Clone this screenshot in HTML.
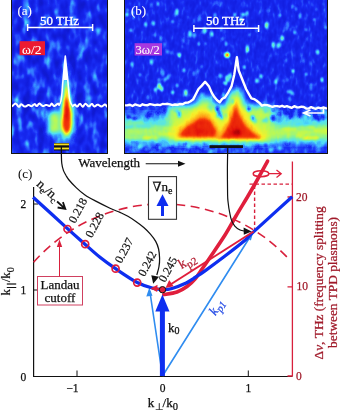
<!DOCTYPE html>
<html><head><meta charset="utf-8"><style>
html,body{margin:0;padding:0;background:#fff;}
body{width:340px;height:410px;overflow:hidden;}
svg{display:block;}
text{font-family:"Liberation Serif","DejaVu Serif",serif;}
</style></head><body>
<svg width="340" height="410" viewBox="0 0 340 410">
<defs>
<clipPath id="ca"><rect x="12" y="0" width="95" height="153"/></clipPath>
<clipPath id="cb"><rect x="125" y="0" width="202" height="153"/></clipPath>
<filter id="b1" x="-50%" y="-50%" width="200%" height="200%"><feGaussianBlur stdDeviation="0.8"/></filter>
<filter id="b2" x="-50%" y="-50%" width="200%" height="200%"><feGaussianBlur stdDeviation="2"/></filter>
<filter id="b3" x="-50%" y="-50%" width="200%" height="200%"><feGaussianBlur stdDeviation="3.5"/></filter>
<filter id="b4" x="-50%" y="-50%" width="200%" height="200%"><feGaussianBlur stdDeviation="1.4"/></filter>
</defs>
<rect width="340" height="410" fill="#fff"/>

<defs>
<filter id="hmA" filterUnits="userSpaceOnUse" x="12" y="0" width="95" height="153" color-interpolation-filters="sRGB"><feTurbulence type="fractalNoise" baseFrequency="0.13 0.075" numOctaves="2" seed="4" result="t0"/><feGaussianBlur in="t0" stdDeviation="0.5" result="t"/><feColorMatrix in="t" type="matrix" values="1 0 0 0 0  1 0 0 0 0  1 0 0 0 0  0 0 0 0 1" result="g"/><feComponentTransfer in="g" result="g2"><feFuncR type="gamma" amplitude="0.45" exponent="2.5" offset="0.065"/><feFuncG type="gamma" amplitude="0.45" exponent="2.5" offset="0.065"/><feFuncB type="gamma" amplitude="0.45" exponent="2.5" offset="0.065"/></feComponentTransfer><feColorMatrix in="SourceGraphic" type="matrix" values="0 1 0 0 0  0 1 0 0 0  0 1 0 0 0  0 0 0 0 1" result="amp"/><feComposite in="g2" in2="amp" operator="arithmetic" k1="1" k2="0" k3="0" k4="0" result="nm"/><feColorMatrix in="SourceGraphic" type="matrix" values="1 0 0 0 0  1 0 0 0 0  1 0 0 0 0  0 0 0 0 1" result="int"/><feComposite in="int" in2="nm" operator="arithmetic" k1="0" k2="1" k3="1" k4="0" result="s"/><feComponentTransfer in="s"><feFuncR type="table" tableValues="0.039 0.045 0.052 0.058 0.064 0.071 0.080 0.089 0.098 0.124 0.150 0.176 0.191 0.206 0.221 0.235 0.261 0.288 0.314 0.349 0.383 0.418 0.453 0.498 0.553 0.608 0.663 0.718 0.775 0.833 0.892 0.951 0.983 0.987 0.991 0.996 1.000 0.990 0.980 0.971 0.961 0.941 0.922 0.902 0.882 0.809 0.735 0.662 0.588 0.529 0.471"/><feFuncG type="table" tableValues="0.059 0.071 0.082 0.094 0.106 0.118 0.137 0.157 0.176 0.242 0.307 0.373 0.446 0.520 0.593 0.667 0.739 0.810 0.882 0.895 0.908 0.922 0.935 0.945 0.953 0.961 0.969 0.976 0.975 0.966 0.956 0.946 0.902 0.824 0.745 0.667 0.588 0.500 0.412 0.324 0.235 0.191 0.147 0.103 0.059 0.044 0.029 0.015 0.000 0.000 0.000"/><feFuncB type="table" tableValues="0.627 0.678 0.729 0.780 0.831 0.882 0.908 0.935 0.961 0.974 0.987 1.000 1.000 1.000 1.000 1.000 0.987 0.974 0.961 0.895 0.830 0.765 0.699 0.631 0.561 0.490 0.420 0.349 0.294 0.255 0.216 0.176 0.148 0.131 0.113 0.096 0.078 0.069 0.059 0.049 0.039 0.039 0.039 0.039 0.039 0.034 0.029 0.025 0.020 0.010 0.000"/><feFuncA type="linear" slope="0" intercept="1"/></feComponentTransfer></filter>
<filter id="hmB" filterUnits="userSpaceOnUse" x="125" y="0" width="202" height="153" color-interpolation-filters="sRGB"><feTurbulence type="fractalNoise" baseFrequency="0.22 0.12" numOctaves="2" seed="9" result="t0"/><feGaussianBlur in="t0" stdDeviation="0.5" result="t"/><feColorMatrix in="t" type="matrix" values="1 0 0 0 0  1 0 0 0 0  1 0 0 0 0  0 0 0 0 1" result="g"/><feComponentTransfer in="g" result="g2"><feFuncR type="gamma" amplitude="0.2" exponent="2.5" offset="0.1"/><feFuncG type="gamma" amplitude="0.2" exponent="2.5" offset="0.1"/><feFuncB type="gamma" amplitude="0.2" exponent="2.5" offset="0.1"/></feComponentTransfer><feColorMatrix in="SourceGraphic" type="matrix" values="0 1 0 0 0  0 1 0 0 0  0 1 0 0 0  0 0 0 0 1" result="amp"/><feComposite in="g2" in2="amp" operator="arithmetic" k1="1" k2="0" k3="0" k4="0" result="nm"/><feColorMatrix in="SourceGraphic" type="matrix" values="1 0 0 0 0  1 0 0 0 0  1 0 0 0 0  0 0 0 0 1" result="int"/><feComposite in="int" in2="nm" operator="arithmetic" k1="0" k2="1" k3="1" k4="0" result="s"/><feComponentTransfer in="s"><feFuncR type="table" tableValues="0.039 0.045 0.052 0.058 0.064 0.071 0.080 0.089 0.098 0.124 0.150 0.176 0.191 0.206 0.221 0.235 0.261 0.288 0.314 0.349 0.383 0.418 0.453 0.498 0.553 0.608 0.663 0.718 0.775 0.833 0.892 0.951 0.983 0.987 0.991 0.996 1.000 0.990 0.980 0.971 0.961 0.941 0.922 0.902 0.882 0.809 0.735 0.662 0.588 0.529 0.471"/><feFuncG type="table" tableValues="0.059 0.071 0.082 0.094 0.106 0.118 0.137 0.157 0.176 0.242 0.307 0.373 0.446 0.520 0.593 0.667 0.739 0.810 0.882 0.895 0.908 0.922 0.935 0.945 0.953 0.961 0.969 0.976 0.975 0.966 0.956 0.946 0.902 0.824 0.745 0.667 0.588 0.500 0.412 0.324 0.235 0.191 0.147 0.103 0.059 0.044 0.029 0.015 0.000 0.000 0.000"/><feFuncB type="table" tableValues="0.627 0.678 0.729 0.780 0.831 0.882 0.908 0.935 0.961 0.974 0.987 1.000 1.000 1.000 1.000 1.000 0.987 0.974 0.961 0.895 0.830 0.765 0.699 0.631 0.561 0.490 0.420 0.349 0.294 0.255 0.216 0.176 0.148 0.131 0.113 0.096 0.078 0.069 0.059 0.049 0.039 0.039 0.039 0.039 0.039 0.034 0.029 0.025 0.020 0.010 0.000"/><feFuncA type="linear" slope="0" intercept="1"/></feComponentTransfer></filter>
</defs>
<rect x="11" y="0" width="97" height="154" fill="#141414"/>
<g filter="url(#hmA)">
<rect x="12" y="0" width="95" height="153" fill="#0f0"/>
<g filter="url(#b3)">
<ellipse cx="55" cy="122" rx="8.5" ry="14" fill="rgb(61,178,0)"/>
<ellipse cx="67" cy="118" rx="7" ry="22" fill="rgb(56,178,0)"/>
<ellipse cx="66" cy="82" rx="3" ry="16" fill="rgb(56,178,0)"/>
<ellipse cx="65" cy="139" rx="5" ry="4" fill="rgb(71,153,0)"/>
</g>
<g filter="url(#b2)">
<rect x="49.5" y="112.5" width="10.5" height="20.5" rx="3" fill="rgb(122,102,0)"/>
<path d="M66.5,78 C69.5,90 73,112 72.6,124 C72.3,132 70,136 66.8,136 C63.6,136 61.2,132 61.2,124 C61.5,112 63.5,90 66.5,78 Z" fill="rgb(128,102,0)"/>
</g>
<g filter="url(#b4)">
<path d="M66.6,86 C68.8,96 71.5,112 71.4,123 C71.2,130 69.5,134 66.7,134 C64,134 62.2,130 62.3,123 C62.4,112 64.5,96 66.6,86 Z" fill="rgb(168,76,0)"/>
<path d="M66.8,97 C68.8,105 70.6,116 70.5,124 C70.4,129 69,131.5 66.8,131.5 C64.7,131.5 63.3,129 63.3,124 C63.4,116 65,105 66.8,97 Z" fill="rgb(204,64,0)"/>
</g>
</g>
<g clip-path="url(#ca)">
<polyline points="12,106.7 12.6,105.9 13.6,104.9 14.6,103.9 15.5,103.5 16.4,104 17.3,105.1 18.2,106.3 19,106.8 19.6,106.5 20,105.6 20.5,104.7 21.1,104.3 22,104.6 22.9,105.4 23.9,106.2 24.9,106.6 25.9,106.4 26.8,105.8 27.8,105.2 28.6,104.9 29.4,105.1 30.1,105.6 30.9,106 31.6,106.2 32.4,105.8 33.2,105.1 34,104.4 34.7,104.1 35.2,104.4 35.7,105.2 36.2,105.9 36.8,106.1 37.4,105.7 38,104.8 38.7,103.9 39.4,103.5 40.2,103.9 41.1,104.7 42,105.6 42.9,106.1 43.8,106 44.6,105.5 45.5,105.1 46.4,104.9 47.2,105.1 48.1,105.5 48.9,105.9 49.6,106 50.2,105.6 50.7,104.7 51.2,104 51.7,103.6 52.3,104 52.8,104.9 53.5,105.7 54.2,106.1 55.1,105.7 56.2,104.9 57.2,104 58.1,103.6 58.6,103.8 59,104.4 59.3,105.1 59.5,105.6" fill="none" stroke="#fff" stroke-width="2" stroke-linejoin="round"/>
<path d="M58.8,105.5 C60.6,104 61.6,99 62.1,92 L63.1,79 L64.3,66 L65.3,56 L66.3,66 L67.7,79 L68.8,92 C69.3,99 70.4,104 72.2,105.5" fill="none" stroke="#fff" stroke-width="1.6" stroke-linejoin="round"/>
<path d="M65.3,56 L64.3,66 L63.4,76 L63.6,80 L67.3,80 L67.4,76 L66.3,66 Z" fill="#fff"/>
<polyline points="72,106.7 72.6,106.3 73.4,105.6 74.2,104.9 75,104.6 75.5,105 76,105.7 76.5,106.3 77.1,106.6 77.8,106.1 78.5,105.1 79.3,104.2 80,103.8 80.7,104.3 81.4,105.3 82.1,106.2 82.8,106.7 83.4,106.2 84,105.2 84.7,104.2 85.4,103.7 86.2,104.1 87.1,105 87.9,105.9 88.8,106.3 89.6,106 90.4,105.1 91.2,104.3 91.9,103.9 92.5,104.3 93.1,105.2 93.6,106 94.3,106.5 95.1,106.2 96,105.6 96.9,104.9 97.9,104.6 98.7,105 99.6,105.6 100.5,106.3 101.4,106.6 102.3,106.3 103.3,105.5 104.2,104.8 105,104.5 105.7,104.8 106.3,105.6 106.9,106.3 107.3,106.7 107.6,106.6 107.8,106.3 107.9,105.9 108,105.6" fill="none" stroke="#fff" stroke-width="2" stroke-linejoin="round"/>
</g>
<text x="17.5" y="15" font-size="13" fill="#fff" stroke="#fff" stroke-width="0.08">(a)</text>
<text x="40" y="24.6" font-size="13" fill="#fff" stroke="#fff" stroke-width="0.3">50 THz</text>
<path d="M27.6,27.5 H92.6 M27.6,24 V31 M92.6,24 V31" stroke="#fff" stroke-width="1.5" fill="none"/>
<rect x="19.6" y="41.2" width="25.4" height="14" fill="#ec1a30"/>
<text x="22" y="53.6" font-size="13.5" fill="#fff" stroke="#fff" stroke-width="0.08">ω/2</text>
<rect x="54" y="143" width="15" height="7.5" fill="#111"/>
<rect x="54" y="143.5" width="15" height="1.8" fill="#f5e020"/>
<rect x="54" y="147.6" width="15" height="1.8" fill="#f5e020"/>
<rect x="124" y="0" width="204" height="154" fill="#141414"/>
<g filter="url(#hmB)">
<rect x="125" y="0" width="202" height="153" fill="#0f0"/>
<g filter="url(#b3)">
<rect x="120" y="108" width="215" height="13" fill="rgb(23,255,0)"/>
<rect x="120" y="119" width="215" height="10" fill="rgb(76,128,0)"/>
<rect x="120" y="128" width="215" height="10" fill="rgb(128,89,0)"/>
<rect x="120" y="137" width="215" height="4" fill="rgb(69,128,0)"/>
<rect x="170" y="106" width="102" height="33" fill="rgb(128,89,0)"/>
<ellipse cx="205" cy="104" rx="9" ry="8" fill="rgb(107,128,0)"/>
<ellipse cx="236" cy="100" rx="8" ry="10" fill="rgb(112,128,0)"/>
<rect x="120" y="141" width="215" height="14" fill="rgb(8,255,0)"/>
</g>
<g filter="url(#b1)">
<ellipse cx="136.5" cy="110.0" rx="1.6" ry="3.2" fill="rgb(51,128,0)"/>
<ellipse cx="301.8" cy="113.5" rx="1.7" ry="3.2" fill="rgb(66,128,0)"/>
<ellipse cx="158.1" cy="113.0" rx="2.3" ry="1.8" fill="rgb(15,128,0)"/>
<ellipse cx="308.1" cy="118.3" rx="1.8" ry="1.5" fill="rgb(15,128,0)"/>
<ellipse cx="273.1" cy="110.2" rx="1.3" ry="1.8" fill="rgb(8,128,0)"/>
<ellipse cx="284.8" cy="109.3" rx="2.1" ry="2.0" fill="rgb(8,128,0)"/>
<ellipse cx="294.4" cy="118.2" rx="2.0" ry="2.5" fill="rgb(76,128,0)"/>
<ellipse cx="291.1" cy="116.7" rx="2.5" ry="2.1" fill="rgb(8,128,0)"/>
<ellipse cx="206.0" cy="118.2" rx="1.9" ry="2.6" fill="rgb(15,128,0)"/>
<ellipse cx="286.1" cy="116.2" rx="2.0" ry="2.3" fill="rgb(66,128,0)"/>
<ellipse cx="228.5" cy="119.2" rx="1.5" ry="3.1" fill="rgb(51,128,0)"/>
<ellipse cx="309.6" cy="116.9" rx="1.7" ry="2.6" fill="rgb(66,128,0)"/>
<ellipse cx="303.7" cy="117.7" rx="2.1" ry="2.2" fill="rgb(8,128,0)"/>
<ellipse cx="164.0" cy="110.1" rx="1.8" ry="3.3" fill="rgb(15,128,0)"/>
<ellipse cx="326.5" cy="113.9" rx="2.4" ry="3.3" fill="rgb(66,128,0)"/>
<ellipse cx="254.4" cy="120.9" rx="2.4" ry="2.6" fill="rgb(66,128,0)"/>
<ellipse cx="323.1" cy="110.8" rx="1.9" ry="3.0" fill="rgb(76,128,0)"/>
<ellipse cx="134.9" cy="110.6" rx="1.2" ry="3.1" fill="rgb(8,128,0)"/>
<ellipse cx="263.7" cy="120.5" rx="1.9" ry="1.7" fill="rgb(76,128,0)"/>
<ellipse cx="138.6" cy="113.3" rx="1.3" ry="3.3" fill="rgb(51,128,0)"/>
<ellipse cx="285.9" cy="113.5" rx="2.3" ry="2.3" fill="rgb(8,128,0)"/>
<ellipse cx="324.1" cy="112.2" rx="1.3" ry="2.6" fill="rgb(76,128,0)"/>
<ellipse cx="209.2" cy="109.3" rx="2.8" ry="3.3" fill="rgb(51,128,0)"/>
<ellipse cx="210.2" cy="117.6" rx="1.4" ry="2.8" fill="rgb(76,128,0)"/>
<ellipse cx="275.6" cy="118.9" rx="1.3" ry="2.5" fill="rgb(51,128,0)"/>
<ellipse cx="234.0" cy="110.8" rx="2.4" ry="2.1" fill="rgb(8,128,0)"/>
<ellipse cx="294.0" cy="113.4" rx="2.8" ry="2.5" fill="rgb(8,128,0)"/>
<ellipse cx="252.6" cy="118.6" rx="1.9" ry="3.0" fill="rgb(8,128,0)"/>
<ellipse cx="217.4" cy="109.2" rx="2.6" ry="3.0" fill="rgb(8,128,0)"/>
<ellipse cx="323.1" cy="117.0" rx="1.9" ry="3.0" fill="rgb(8,128,0)"/>
<ellipse cx="157.9" cy="112.9" rx="2.0" ry="1.8" fill="rgb(8,128,0)"/>
<ellipse cx="226.5" cy="115.5" rx="1.6" ry="2.6" fill="rgb(66,128,0)"/>
<ellipse cx="144.7" cy="120.2" rx="1.5" ry="2.1" fill="rgb(66,128,0)"/>
<ellipse cx="206.0" cy="120.3" rx="2.7" ry="2.5" fill="rgb(8,128,0)"/>
<ellipse cx="278.4" cy="119.7" rx="1.5" ry="2.6" fill="rgb(76,128,0)"/>
<ellipse cx="143.1" cy="112.8" rx="2.1" ry="1.8" fill="rgb(51,128,0)"/>
<ellipse cx="305.0" cy="120.2" rx="2.5" ry="2.5" fill="rgb(76,128,0)"/>
<ellipse cx="272.8" cy="118.3" rx="2.3" ry="3.2" fill="rgb(8,128,0)"/>
<ellipse cx="300.3" cy="113.1" rx="2.5" ry="3.3" fill="rgb(15,128,0)"/>
<ellipse cx="248.6" cy="109.1" rx="2.2" ry="2.5" fill="rgb(8,128,0)"/>
<ellipse cx="265.9" cy="110.5" rx="1.8" ry="2.4" fill="rgb(76,128,0)"/>
<ellipse cx="318.5" cy="119.3" rx="1.8" ry="3.0" fill="rgb(8,128,0)"/>
<ellipse cx="194.9" cy="118.0" rx="1.8" ry="3.1" fill="rgb(76,128,0)"/>
<ellipse cx="295.2" cy="113.5" rx="2.5" ry="1.8" fill="rgb(51,128,0)"/>
<ellipse cx="238.4" cy="113.4" rx="1.4" ry="2.0" fill="rgb(8,128,0)"/>
<ellipse cx="290.8" cy="112.9" rx="1.3" ry="2.3" fill="rgb(15,128,0)"/>
<ellipse cx="147.6" cy="115.9" rx="1.7" ry="2.8" fill="rgb(8,128,0)"/>
<ellipse cx="179.4" cy="114.3" rx="1.8" ry="3.4" fill="rgb(51,128,0)"/>
<ellipse cx="217.6" cy="115.9" rx="1.7" ry="1.6" fill="rgb(15,128,0)"/>
<ellipse cx="150.8" cy="114.1" rx="2.4" ry="2.5" fill="rgb(15,128,0)"/>
<ellipse cx="134.6" cy="121.0" rx="1.7" ry="2.2" fill="rgb(8,128,0)"/>
<ellipse cx="315.3" cy="116.2" rx="1.9" ry="3.3" fill="rgb(8,128,0)"/>
<ellipse cx="304.4" cy="118.3" rx="2.3" ry="3.3" fill="rgb(76,128,0)"/>
<ellipse cx="128.8" cy="117.8" rx="2.3" ry="1.6" fill="rgb(8,128,0)"/>
<ellipse cx="176.9" cy="111.0" rx="1.8" ry="1.6" fill="rgb(51,128,0)"/>
<ellipse cx="128.6" cy="117.1" rx="1.3" ry="2.5" fill="rgb(8,128,0)"/>
<ellipse cx="279.5" cy="120.1" rx="1.7" ry="3.2" fill="rgb(51,128,0)"/>
<ellipse cx="219.9" cy="112.4" rx="1.4" ry="2.7" fill="rgb(51,128,0)"/>
<ellipse cx="238.0" cy="118.7" rx="2.7" ry="1.6" fill="rgb(8,128,0)"/>
<ellipse cx="314.8" cy="113.9" rx="1.4" ry="2.6" fill="rgb(8,128,0)"/>
<ellipse cx="279.1" cy="114.2" rx="1.4" ry="1.8" fill="rgb(8,128,0)"/>
<ellipse cx="312.9" cy="120.7" rx="1.6" ry="1.9" fill="rgb(51,128,0)"/>
<ellipse cx="207.1" cy="109.3" rx="2.2" ry="2.6" fill="rgb(76,128,0)"/>
<ellipse cx="134.4" cy="120.3" rx="2.6" ry="3.2" fill="rgb(8,128,0)"/>
<ellipse cx="266.5" cy="120.1" rx="1.4" ry="2.8" fill="rgb(66,128,0)"/>
<ellipse cx="291.2" cy="111.5" rx="2.4" ry="3.1" fill="rgb(8,128,0)"/>
<ellipse cx="219.6" cy="114.0" rx="2.3" ry="2.4" fill="rgb(8,128,0)"/>
<ellipse cx="238.7" cy="113.7" rx="2.6" ry="2.1" fill="rgb(66,128,0)"/>
<ellipse cx="221.6" cy="117.6" rx="1.4" ry="2.4" fill="rgb(8,128,0)"/>
<ellipse cx="299.3" cy="115.6" rx="1.9" ry="2.2" fill="rgb(8,128,0)"/>
<ellipse cx="198.9" cy="128.0" rx="3.6" ry="1.8" fill="rgb(148,89,0)"/>
<ellipse cx="277.4" cy="131.7" rx="7.4" ry="1.8" fill="rgb(122,89,0)"/>
<ellipse cx="167.4" cy="127.9" rx="3.8" ry="1.5" fill="rgb(122,89,0)"/>
<ellipse cx="297.1" cy="121.1" rx="5.0" ry="1.1" fill="rgb(87,89,0)"/>
<ellipse cx="170.0" cy="128.7" rx="7.0" ry="1.1" fill="rgb(128,89,0)"/>
<ellipse cx="156.5" cy="129.3" rx="3.8" ry="1.0" fill="rgb(122,89,0)"/>
<ellipse cx="214.3" cy="135.6" rx="7.9" ry="1.2" fill="rgb(128,89,0)"/>
<ellipse cx="212.7" cy="133.1" rx="7.1" ry="1.3" fill="rgb(122,89,0)"/>
<ellipse cx="260.5" cy="127.2" rx="7.9" ry="1.1" fill="rgb(138,89,0)"/>
<ellipse cx="139.0" cy="137.6" rx="4.4" ry="1.6" fill="rgb(115,89,0)"/>
<ellipse cx="126.2" cy="136.9" rx="4.6" ry="1.4" fill="rgb(122,89,0)"/>
<ellipse cx="323.9" cy="127.6" rx="8.1" ry="1.9" fill="rgb(115,89,0)"/>
<ellipse cx="247.1" cy="127.3" rx="7.8" ry="1.5" fill="rgb(138,89,0)"/>
<ellipse cx="126.6" cy="126.3" rx="7.3" ry="1.6" fill="rgb(76,89,0)"/>
<ellipse cx="215.4" cy="122.9" rx="5.4" ry="1.7" fill="rgb(138,89,0)"/>
<ellipse cx="164.5" cy="134.0" rx="7.7" ry="1.3" fill="rgb(133,89,0)"/>
<ellipse cx="305.0" cy="138.7" rx="5.3" ry="1.3" fill="rgb(128,89,0)"/>
<ellipse cx="132.3" cy="137.4" rx="7.7" ry="1.4" fill="rgb(122,89,0)"/>
<ellipse cx="146.3" cy="139.0" rx="3.6" ry="1.1" fill="rgb(122,89,0)"/>
<ellipse cx="309.8" cy="127.5" rx="5.2" ry="1.3" fill="rgb(143,89,0)"/>
<ellipse cx="144.6" cy="125.7" rx="8.2" ry="1.7" fill="rgb(87,89,0)"/>
<ellipse cx="150.3" cy="137.5" rx="7.8" ry="1.6" fill="rgb(143,89,0)"/>
<ellipse cx="279.2" cy="132.8" rx="8.7" ry="1.0" fill="rgb(128,89,0)"/>
<ellipse cx="294.6" cy="132.1" rx="8.0" ry="1.8" fill="rgb(122,89,0)"/>
<ellipse cx="303.8" cy="127.5" rx="7.9" ry="1.1" fill="rgb(122,89,0)"/>
<ellipse cx="126.1" cy="124.8" rx="7.8" ry="1.1" fill="rgb(107,89,0)"/>
<ellipse cx="296.3" cy="124.1" rx="5.5" ry="1.8" fill="rgb(87,89,0)"/>
<ellipse cx="204.4" cy="126.5" rx="3.7" ry="1.6" fill="rgb(138,89,0)"/>
<ellipse cx="179.5" cy="122.0" rx="8.3" ry="1.3" fill="rgb(128,89,0)"/>
<ellipse cx="236.0" cy="132.9" rx="7.0" ry="1.3" fill="rgb(148,89,0)"/>
<ellipse cx="302.9" cy="124.6" rx="6.0" ry="1.4" fill="rgb(76,89,0)"/>
<ellipse cx="300.1" cy="135.4" rx="4.0" ry="1.0" fill="rgb(143,89,0)"/>
<ellipse cx="170.7" cy="135.9" rx="6.5" ry="1.2" fill="rgb(122,89,0)"/>
<ellipse cx="240.4" cy="135.7" rx="7.3" ry="1.9" fill="rgb(148,89,0)"/>
<ellipse cx="141.0" cy="136.0" rx="3.5" ry="1.0" fill="rgb(115,89,0)"/>
<ellipse cx="233.5" cy="126.6" rx="4.2" ry="1.0" fill="rgb(138,89,0)"/>
<ellipse cx="297.9" cy="130.5" rx="8.0" ry="1.8" fill="rgb(115,89,0)"/>
<ellipse cx="303.5" cy="132.1" rx="7.0" ry="1.6" fill="rgb(133,89,0)"/>
<ellipse cx="207.3" cy="128.7" rx="3.5" ry="1.2" fill="rgb(128,89,0)"/>
<ellipse cx="258.0" cy="132.6" rx="5.2" ry="1.4" fill="rgb(122,89,0)"/>
<ellipse cx="178.9" cy="128.4" rx="6.2" ry="1.8" fill="rgb(148,89,0)"/>
<ellipse cx="312.2" cy="122.6" rx="8.3" ry="1.6" fill="rgb(76,89,0)"/>
<ellipse cx="154.9" cy="134.7" rx="3.6" ry="1.9" fill="rgb(115,89,0)"/>
<ellipse cx="175.5" cy="135.4" rx="5.9" ry="1.4" fill="rgb(122,89,0)"/>
<ellipse cx="288.4" cy="129.4" rx="8.0" ry="1.8" fill="rgb(133,89,0)"/>
<ellipse cx="326.5" cy="132.7" rx="4.2" ry="1.0" fill="rgb(133,89,0)"/>
<ellipse cx="136.5" cy="122.7" rx="7.5" ry="1.7" fill="rgb(107,89,0)"/>
<ellipse cx="307.8" cy="138.6" rx="3.4" ry="1.6" fill="rgb(143,89,0)"/>
<ellipse cx="322.0" cy="130.1" rx="7.6" ry="1.5" fill="rgb(143,89,0)"/>
<ellipse cx="231.7" cy="125.2" rx="5.0" ry="1.9" fill="rgb(128,89,0)"/>
<ellipse cx="253.0" cy="128.5" rx="5.0" ry="1.5" fill="rgb(148,89,0)"/>
<ellipse cx="173.3" cy="134.1" rx="7.1" ry="1.7" fill="rgb(143,89,0)"/>
<ellipse cx="154.9" cy="137.8" rx="3.9" ry="1.6" fill="rgb(122,89,0)"/>
<ellipse cx="263.8" cy="128.2" rx="7.6" ry="1.9" fill="rgb(128,89,0)"/>
<ellipse cx="228.2" cy="132.8" rx="6.0" ry="1.0" fill="rgb(128,89,0)"/>
<ellipse cx="157.3" cy="127.3" rx="6.8" ry="1.2" fill="rgb(115,89,0)"/>
<ellipse cx="211.8" cy="136.3" rx="5.4" ry="1.0" fill="rgb(122,89,0)"/>
<ellipse cx="212.3" cy="128.5" rx="8.9" ry="1.4" fill="rgb(122,89,0)"/>
<ellipse cx="128.9" cy="121.7" rx="5.2" ry="1.8" fill="rgb(97,89,0)"/>
<ellipse cx="321.1" cy="130.9" rx="5.9" ry="1.8" fill="rgb(133,89,0)"/>
<ellipse cx="244.3" cy="127.1" rx="3.2" ry="1.1" fill="rgb(128,89,0)"/>
<ellipse cx="216.2" cy="135.7" rx="5.6" ry="1.8" fill="rgb(122,89,0)"/>
<ellipse cx="196.0" cy="132.7" rx="4.6" ry="1.9" fill="rgb(138,89,0)"/>
<ellipse cx="235.4" cy="133.1" rx="4.2" ry="1.0" fill="rgb(128,89,0)"/>
<ellipse cx="238.2" cy="138.6" rx="6.6" ry="1.5" fill="rgb(122,89,0)"/>
<ellipse cx="206.3" cy="130.0" rx="4.1" ry="1.2" fill="rgb(148,89,0)"/>
<ellipse cx="266.3" cy="134.3" rx="5.4" ry="1.4" fill="rgb(128,89,0)"/>
<ellipse cx="314.6" cy="122.8" rx="3.5" ry="1.1" fill="rgb(97,89,0)"/>
<ellipse cx="161.2" cy="122.5" rx="5.5" ry="1.6" fill="rgb(87,89,0)"/>
<ellipse cx="311.2" cy="137.7" rx="8.7" ry="1.7" fill="rgb(143,89,0)"/>
<ellipse cx="209.3" cy="142.1" rx="2.9" ry="1.7" fill="rgb(46,153,0)"/>
<ellipse cx="293.5" cy="149.8" rx="1.8" ry="1.6" fill="rgb(46,153,0)"/>
<ellipse cx="163.3" cy="141.3" rx="2.1" ry="1.2" fill="rgb(61,153,0)"/>
<ellipse cx="167.1" cy="144.4" rx="1.5" ry="2.0" fill="rgb(46,153,0)"/>
<ellipse cx="198.5" cy="147.4" rx="2.3" ry="2.3" fill="rgb(8,153,0)"/>
<ellipse cx="167.8" cy="143.9" rx="2.2" ry="2.3" fill="rgb(61,153,0)"/>
<ellipse cx="309.0" cy="143.0" rx="2.1" ry="1.6" fill="rgb(61,153,0)"/>
<ellipse cx="251.9" cy="146.6" rx="2.0" ry="2.4" fill="rgb(46,153,0)"/>
<ellipse cx="141.9" cy="145.7" rx="3.0" ry="2.4" fill="rgb(61,153,0)"/>
<ellipse cx="248.7" cy="144.9" rx="2.2" ry="1.9" fill="rgb(76,153,0)"/>
<ellipse cx="172.9" cy="141.7" rx="2.6" ry="1.8" fill="rgb(61,153,0)"/>
<ellipse cx="248.5" cy="148.3" rx="1.5" ry="1.9" fill="rgb(46,153,0)"/>
<ellipse cx="308.5" cy="146.0" rx="2.2" ry="1.9" fill="rgb(8,153,0)"/>
<ellipse cx="200.0" cy="149.3" rx="3.0" ry="1.6" fill="rgb(8,153,0)"/>
<ellipse cx="244.2" cy="142.7" rx="1.9" ry="1.4" fill="rgb(46,153,0)"/>
<ellipse cx="179.9" cy="143.8" rx="1.7" ry="2.0" fill="rgb(8,153,0)"/>
<ellipse cx="135.9" cy="151.4" rx="2.3" ry="1.2" fill="rgb(8,153,0)"/>
<ellipse cx="157.9" cy="145.0" rx="1.8" ry="1.3" fill="rgb(8,153,0)"/>
<ellipse cx="134.3" cy="143.6" rx="2.8" ry="1.8" fill="rgb(8,153,0)"/>
<ellipse cx="145.0" cy="147.7" rx="2.3" ry="1.5" fill="rgb(8,153,0)"/>
<ellipse cx="146.5" cy="151.7" rx="2.4" ry="1.4" fill="rgb(8,153,0)"/>
<ellipse cx="279.7" cy="148.0" rx="2.9" ry="2.0" fill="rgb(61,153,0)"/>
<ellipse cx="188.5" cy="146.2" rx="1.5" ry="1.9" fill="rgb(76,153,0)"/>
<ellipse cx="164.7" cy="144.6" rx="2.1" ry="2.5" fill="rgb(61,153,0)"/>
<ellipse cx="244.1" cy="152.3" rx="1.5" ry="1.4" fill="rgb(8,153,0)"/>
<ellipse cx="226.2" cy="149.9" rx="1.7" ry="1.4" fill="rgb(8,153,0)"/>
<ellipse cx="129.3" cy="149.6" rx="1.6" ry="2.0" fill="rgb(61,153,0)"/>
<ellipse cx="172.6" cy="148.4" rx="2.6" ry="1.5" fill="rgb(8,153,0)"/>
<ellipse cx="185.7" cy="143.8" rx="2.3" ry="2.5" fill="rgb(8,153,0)"/>
<ellipse cx="127.8" cy="149.5" rx="1.9" ry="1.6" fill="rgb(8,153,0)"/>
<ellipse cx="224.1" cy="143.2" rx="2.1" ry="1.8" fill="rgb(46,153,0)"/>
<ellipse cx="188.3" cy="150.1" rx="1.5" ry="1.6" fill="rgb(8,153,0)"/>
<ellipse cx="214.7" cy="150.0" rx="2.7" ry="1.4" fill="rgb(61,153,0)"/>
<ellipse cx="225.5" cy="152.9" rx="2.7" ry="1.5" fill="rgb(46,153,0)"/>
<ellipse cx="198.0" cy="152.1" rx="1.7" ry="1.9" fill="rgb(46,153,0)"/>
<ellipse cx="146.8" cy="148.7" rx="1.9" ry="1.8" fill="rgb(46,153,0)"/>
<ellipse cx="203.9" cy="143.1" rx="2.4" ry="1.6" fill="rgb(8,153,0)"/>
<ellipse cx="270.9" cy="150.1" rx="1.6" ry="2.2" fill="rgb(76,153,0)"/>
<ellipse cx="200.8" cy="142.9" rx="1.9" ry="2.3" fill="rgb(76,153,0)"/>
<ellipse cx="280.3" cy="147.4" rx="2.4" ry="1.2" fill="rgb(61,153,0)"/>
<ellipse cx="311.1" cy="152.8" rx="2.4" ry="1.5" fill="rgb(8,153,0)"/>
<ellipse cx="319.5" cy="145.1" rx="1.8" ry="2.1" fill="rgb(76,153,0)"/>
<ellipse cx="257.2" cy="145.0" rx="1.6" ry="1.5" fill="rgb(8,153,0)"/>
<ellipse cx="287.5" cy="143.2" rx="2.4" ry="2.0" fill="rgb(8,153,0)"/>
<ellipse cx="158.0" cy="147.4" rx="2.4" ry="2.2" fill="rgb(8,153,0)"/>
<ellipse cx="236.0" cy="141.7" rx="2.0" ry="2.5" fill="rgb(76,153,0)"/>
<ellipse cx="265.5" cy="144.9" rx="1.3" ry="2.2" fill="rgb(8,153,0)"/>
<ellipse cx="214.1" cy="148.8" rx="2.8" ry="1.4" fill="rgb(8,153,0)"/>
<ellipse cx="209.9" cy="152.3" rx="2.2" ry="1.8" fill="rgb(61,153,0)"/>
<ellipse cx="134.1" cy="143.9" rx="2.6" ry="1.5" fill="rgb(61,153,0)"/>
<ellipse cx="230.0" cy="141.5" rx="2.7" ry="2.4" fill="rgb(76,153,0)"/>
<ellipse cx="201.1" cy="151.1" rx="1.6" ry="2.1" fill="rgb(8,153,0)"/>
<ellipse cx="139.3" cy="147.1" rx="2.1" ry="2.0" fill="rgb(76,153,0)"/>
<ellipse cx="184.5" cy="152.2" rx="2.6" ry="2.2" fill="rgb(46,153,0)"/>
<ellipse cx="256.4" cy="147.2" rx="2.7" ry="1.2" fill="rgb(8,153,0)"/>
<ellipse cx="262.2" cy="151.6" rx="1.7" ry="1.8" fill="rgb(46,153,0)"/>
<ellipse cx="153.5" cy="150.8" rx="1.4" ry="1.4" fill="rgb(46,153,0)"/>
<ellipse cx="316.9" cy="148.6" rx="1.4" ry="1.8" fill="rgb(46,153,0)"/>
<ellipse cx="137.3" cy="150.0" rx="2.3" ry="2.3" fill="rgb(46,153,0)"/>
<ellipse cx="134.4" cy="148.5" rx="2.4" ry="1.4" fill="rgb(46,153,0)"/>
</g>
<g filter="url(#b3)">
<path d="M170,140 C172,127 184,119 192,114 C196,104 210,103 213,111 C217,118 220,122 223,127 C226,117 230,105 235.3,92 C241,108 252,127 274,140 Z" fill="rgb(153,76,0)"/>
</g>
<g filter="url(#b2)">
<path d="M177,138 C179,128 187,123 193,120 C196,113 207,111 210,117 C214,122 218,128 220,138 Z" fill="rgb(173,76,0)"/>
<path d="M216,139 C225,131 230,116 235.3,98 C240,116 248,130 266,139 Z" fill="rgb(173,76,0)"/>
</g>
<g filter="url(#b4)">
<path d="M180,136.5 C182,130 187,126 194,123 C197,118 206,117 209,121 C213,125 216,130 218.5,136.5 Z" fill="rgb(204,76,0)"/>
<path d="M220,138 C227,132 232,120 235.8,106 C240,120 246,131 261,138 Z" fill="rgb(204,76,0)"/>
<ellipse cx="219" cy="134" rx="4" ry="2.5" fill="rgb(168,76,0)"/>
<ellipse cx="236.5" cy="132.5" rx="5" ry="3" fill="rgb(230,51,0)"/>
<ellipse cx="200" cy="131" rx="4" ry="2.5" fill="rgb(217,51,0)"/>
</g>
<g filter="url(#b1)">
<circle cx="227.2" cy="55" r="2.8" fill="rgb(140,51,0)"/>
<circle cx="227.2" cy="55" r="1.6" fill="rgb(217,51,0)"/>
<ellipse cx="220.5" cy="75.6" rx="1.0" ry="2.2" fill="rgb(117,102,0)"/>
<ellipse cx="277.7" cy="78.6" rx="1.0" ry="2.3" fill="rgb(66,102,0)"/>
<ellipse cx="226.2" cy="44.0" rx="1.1" ry="2.3" fill="rgb(107,102,0)"/>
<ellipse cx="230.4" cy="75.9" rx="1.3" ry="2.9" fill="rgb(107,102,0)"/>
<ellipse cx="311.0" cy="86.0" rx="1.2" ry="2.9" fill="rgb(97,102,0)"/>
<ellipse cx="321.9" cy="79.8" rx="1.2" ry="2.5" fill="rgb(128,102,0)"/>
<ellipse cx="154.7" cy="35.0" rx="1.1" ry="1.4" fill="rgb(87,102,0)"/>
<ellipse cx="211.9" cy="34.0" rx="1.4" ry="2.5" fill="rgb(107,102,0)"/>
<ellipse cx="167.7" cy="77.7" rx="1.6" ry="2.2" fill="rgb(76,102,0)"/>
<ellipse cx="227.6" cy="80.0" rx="1.3" ry="1.9" fill="rgb(128,102,0)"/>
<ellipse cx="256.9" cy="80.8" rx="1.6" ry="2.5" fill="rgb(107,102,0)"/>
<ellipse cx="167.4" cy="51.8" rx="1.1" ry="2.0" fill="rgb(97,102,0)"/>
<ellipse cx="193.8" cy="73.6" rx="1.4" ry="3.0" fill="rgb(66,102,0)"/>
<ellipse cx="279.8" cy="15.3" rx="1.2" ry="1.4" fill="rgb(107,102,0)"/>
<ellipse cx="314.3" cy="19.5" rx="1.2" ry="1.6" fill="rgb(97,102,0)"/>
<ellipse cx="172.5" cy="21.8" rx="1.0" ry="1.8" fill="rgb(117,102,0)"/>
<ellipse cx="179.5" cy="54.9" rx="1.3" ry="2.2" fill="rgb(128,102,0)"/>
<ellipse cx="294.7" cy="32.4" rx="1.0" ry="1.9" fill="rgb(117,102,0)"/>
<ellipse cx="176.8" cy="12.2" rx="1.4" ry="3.4" fill="rgb(107,102,0)"/>
<ellipse cx="162.0" cy="87.9" rx="1.1" ry="2.3" fill="rgb(87,102,0)"/>
<ellipse cx="286.2" cy="60.5" rx="1.1" ry="2.4" fill="rgb(66,102,0)"/>
<ellipse cx="316.2" cy="9.4" rx="0.8" ry="1.1" fill="rgb(107,102,0)"/>
<ellipse cx="292.1" cy="93.6" rx="1.6" ry="1.9" fill="rgb(87,102,0)"/>
<ellipse cx="224.1" cy="82.7" rx="1.0" ry="1.2" fill="rgb(97,102,0)"/>
<ellipse cx="147.8" cy="97.3" rx="1.4" ry="2.8" fill="rgb(66,102,0)"/>
<ellipse cx="133.0" cy="12.9" rx="1.2" ry="1.8" fill="rgb(97,102,0)"/>
<ellipse cx="151.5" cy="4.9" rx="1.0" ry="2.2" fill="rgb(76,102,0)"/>
<ellipse cx="261.0" cy="76.2" rx="1.3" ry="2.3" fill="rgb(107,102,0)"/>
<ellipse cx="221.1" cy="29.5" rx="1.3" ry="3.0" fill="rgb(66,102,0)"/>
<ellipse cx="287.4" cy="23.9" rx="1.4" ry="2.9" fill="rgb(66,102,0)"/>
<ellipse cx="153.6" cy="23.2" rx="1.1" ry="2.5" fill="rgb(117,102,0)"/>
<ellipse cx="198.0" cy="71.3" rx="1.1" ry="1.1" fill="rgb(87,102,0)"/>
<ellipse cx="171.4" cy="53.2" rx="1.0" ry="1.7" fill="rgb(76,102,0)"/>
<ellipse cx="225.8" cy="83.4" rx="1.1" ry="1.9" fill="rgb(128,102,0)"/>
<ellipse cx="237.1" cy="92.9" rx="1.3" ry="1.7" fill="rgb(117,102,0)"/>
<ellipse cx="247.3" cy="12.9" rx="0.8" ry="2.2" fill="rgb(128,102,0)"/>
<ellipse cx="161.8" cy="89.0" rx="1.6" ry="2.2" fill="rgb(117,102,0)"/>
<ellipse cx="159.1" cy="86.1" rx="1.6" ry="3.0" fill="rgb(128,102,0)"/>
<ellipse cx="158.8" cy="79.8" rx="1.1" ry="2.3" fill="rgb(87,102,0)"/>
<ellipse cx="163.0" cy="73.2" rx="1.3" ry="3.2" fill="rgb(76,102,0)"/>
<ellipse cx="288.2" cy="91.9" rx="1.0" ry="1.6" fill="rgb(117,102,0)"/>
<ellipse cx="300.0" cy="15.9" rx="1.2" ry="2.9" fill="rgb(87,102,0)"/>
<ellipse cx="267.5" cy="28.9" rx="1.0" ry="1.3" fill="rgb(66,102,0)"/>
<ellipse cx="127.0" cy="14.6" rx="1.2" ry="2.0" fill="rgb(128,102,0)"/>
<ellipse cx="241.0" cy="19.5" rx="1.2" ry="2.8" fill="rgb(107,102,0)"/>
<ellipse cx="305.9" cy="29.9" rx="1.2" ry="1.3" fill="rgb(87,102,0)"/>
<ellipse cx="206.2" cy="30.4" rx="1.2" ry="1.7" fill="rgb(66,102,0)"/>
<ellipse cx="282.1" cy="38.2" rx="1.4" ry="2.6" fill="rgb(128,102,0)"/>
<ellipse cx="184.0" cy="70.2" rx="1.2" ry="2.2" fill="rgb(107,102,0)"/>
<ellipse cx="177.2" cy="85.5" rx="1.1" ry="1.9" fill="rgb(107,102,0)"/>
<ellipse cx="256.8" cy="30.8" rx="1.4" ry="1.7" fill="rgb(66,102,0)"/>
<ellipse cx="145.5" cy="24.2" rx="1.1" ry="2.2" fill="rgb(117,102,0)"/>
<ellipse cx="204.5" cy="30.5" rx="1.6" ry="3.7" fill="rgb(97,102,0)"/>
<ellipse cx="222.5" cy="38.8" rx="1.3" ry="2.0" fill="rgb(76,102,0)"/>
<ellipse cx="139.8" cy="75.0" rx="1.0" ry="1.8" fill="rgb(97,102,0)"/>
<ellipse cx="165.0" cy="79.5" rx="1.4" ry="1.9" fill="rgb(87,102,0)"/>
<ellipse cx="287.5" cy="80.2" rx="1.0" ry="2.3" fill="rgb(66,102,0)"/>
<ellipse cx="213.4" cy="21.4" rx="1.4" ry="1.6" fill="rgb(66,102,0)"/>
<ellipse cx="151.7" cy="61.9" rx="1.3" ry="3.1" fill="rgb(97,102,0)"/>
<ellipse cx="244.3" cy="67.1" rx="1.4" ry="1.9" fill="rgb(107,102,0)"/>
<ellipse cx="185.8" cy="92.6" rx="1.3" ry="3.4" fill="rgb(128,102,0)"/>
<ellipse cx="194.4" cy="35.2" rx="1.2" ry="2.8" fill="rgb(87,102,0)"/>
<ellipse cx="131.0" cy="30.2" rx="1.2" ry="1.6" fill="rgb(97,102,0)"/>
<ellipse cx="286.0" cy="28.0" rx="1.0" ry="1.6" fill="rgb(66,102,0)"/>
<ellipse cx="234.9" cy="14.7" rx="1.3" ry="1.8" fill="rgb(97,102,0)"/>
<ellipse cx="132.0" cy="64.3" rx="1.6" ry="2.9" fill="rgb(87,102,0)"/>
<ellipse cx="133.7" cy="17.7" rx="1.2" ry="1.7" fill="rgb(87,102,0)"/>
<ellipse cx="303.5" cy="60.7" rx="1.3" ry="2.8" fill="rgb(66,102,0)"/>
<ellipse cx="183.4" cy="40.7" rx="1.3" ry="2.4" fill="rgb(66,102,0)"/>
<ellipse cx="199.4" cy="18.0" rx="1.3" ry="3.5" fill="rgb(66,102,0)"/>
<ellipse cx="180.4" cy="20.4" rx="1.1" ry="1.1" fill="rgb(66,102,0)"/>
<ellipse cx="273.3" cy="44.7" rx="1.4" ry="3.0" fill="rgb(117,102,0)"/>
<ellipse cx="268.0" cy="10.3" rx="1.2" ry="1.6" fill="rgb(66,102,0)"/>
<ellipse cx="227.0" cy="77.7" rx="1.3" ry="2.8" fill="rgb(107,102,0)"/>
<ellipse cx="257.5" cy="66.1" rx="1.1" ry="1.2" fill="rgb(66,102,0)"/>
<ellipse cx="169.0" cy="75.5" rx="1.3" ry="2.0" fill="rgb(66,102,0)"/>
<ellipse cx="325.7" cy="27.3" rx="1.0" ry="1.8" fill="rgb(76,102,0)"/>
<ellipse cx="234.3" cy="36.9" rx="0.8" ry="0.8" fill="rgb(97,102,0)"/>
<ellipse cx="189.9" cy="33.8" rx="1.6" ry="3.5" fill="rgb(97,102,0)"/>
<ellipse cx="232.6" cy="101.4" rx="1.4" ry="2.9" fill="rgb(87,102,0)"/>
<ellipse cx="205.3" cy="43.7" rx="1.0" ry="1.0" fill="rgb(97,102,0)"/>
<ellipse cx="198.7" cy="43.9" rx="1.0" ry="2.2" fill="rgb(107,102,0)"/>
<ellipse cx="216.6" cy="2.7" rx="1.1" ry="2.3" fill="rgb(66,102,0)"/>
<ellipse cx="215.0" cy="14.9" rx="1.2" ry="2.5" fill="rgb(87,102,0)"/>
<ellipse cx="317.7" cy="52.0" rx="1.2" ry="2.6" fill="rgb(128,102,0)"/>
<ellipse cx="311.0" cy="87.7" rx="1.4" ry="2.9" fill="rgb(66,102,0)"/>
<ellipse cx="289.6" cy="98.7" rx="1.1" ry="2.6" fill="rgb(87,102,0)"/>
<ellipse cx="296.1" cy="9.1" rx="1.3" ry="2.3" fill="rgb(66,102,0)"/>
<ellipse cx="275.8" cy="81.8" rx="1.3" ry="2.8" fill="rgb(117,102,0)"/>
<ellipse cx="201.7" cy="66.7" rx="0.8" ry="2.0" fill="rgb(87,102,0)"/>
<ellipse cx="306.2" cy="74.3" rx="1.0" ry="1.2" fill="rgb(128,102,0)"/>
<ellipse cx="129.9" cy="3.6" rx="1.0" ry="1.2" fill="rgb(76,102,0)"/>
<ellipse cx="172.6" cy="92.4" rx="1.4" ry="1.8" fill="rgb(117,102,0)"/>
<ellipse cx="292.8" cy="6.2" rx="0.8" ry="1.4" fill="rgb(87,102,0)"/>
<ellipse cx="160.8" cy="38.4" rx="1.4" ry="2.8" fill="rgb(76,102,0)"/>
<ellipse cx="278.1" cy="45.7" rx="1.4" ry="2.9" fill="rgb(107,102,0)"/>
<ellipse cx="155.2" cy="89.6" rx="1.2" ry="2.2" fill="rgb(117,102,0)"/>
<ellipse cx="306.9" cy="39.0" rx="1.0" ry="1.4" fill="rgb(76,102,0)"/>
<ellipse cx="244.4" cy="14.3" rx="1.4" ry="1.6" fill="rgb(87,102,0)"/>
<ellipse cx="127.6" cy="10.1" rx="1.3" ry="1.7" fill="rgb(97,102,0)"/>
<ellipse cx="266.6" cy="25.3" rx="1.6" ry="3.0" fill="rgb(128,102,0)"/>
<ellipse cx="280.3" cy="44.2" rx="1.4" ry="2.5" fill="rgb(66,102,0)"/>
<ellipse cx="290.9" cy="91.8" rx="1.0" ry="2.2" fill="rgb(97,102,0)"/>
<ellipse cx="157.9" cy="4.0" rx="1.1" ry="2.2" fill="rgb(97,102,0)"/>
<ellipse cx="293.1" cy="71.0" rx="1.4" ry="1.8" fill="rgb(128,102,0)"/>
<ellipse cx="201.9" cy="95.7" rx="1.3" ry="2.5" fill="rgb(87,102,0)"/>
<ellipse cx="249.3" cy="34.9" rx="0.8" ry="1.6" fill="rgb(87,102,0)"/>
<ellipse cx="242.5" cy="14.7" rx="1.4" ry="1.7" fill="rgb(97,102,0)"/>
<ellipse cx="247.4" cy="49.0" rx="1.3" ry="3.5" fill="rgb(128,102,0)"/>
<ellipse cx="223.9" cy="95.8" rx="1.4" ry="2.6" fill="rgb(87,102,0)"/>
<ellipse cx="196.8" cy="144.3" rx="1.9" ry="1.4" fill="rgb(69,153,0)"/>
<ellipse cx="199.9" cy="146.0" rx="1.8" ry="1.8" fill="rgb(59,153,0)"/>
<ellipse cx="222.4" cy="149.1" rx="1.9" ry="1.5" fill="rgb(59,153,0)"/>
<ellipse cx="160.4" cy="148.0" rx="1.3" ry="1.6" fill="rgb(69,153,0)"/>
<ellipse cx="189.2" cy="143.9" rx="2.1" ry="1.3" fill="rgb(64,153,0)"/>
<ellipse cx="306.6" cy="141.3" rx="1.0" ry="1.8" fill="rgb(61,153,0)"/>
<ellipse cx="319.3" cy="150.1" rx="1.0" ry="1.7" fill="rgb(79,153,0)"/>
<ellipse cx="272.3" cy="148.4" rx="1.5" ry="1.5" fill="rgb(74,153,0)"/>
<ellipse cx="176.2" cy="144.6" rx="2.1" ry="1.8" fill="rgb(71,153,0)"/>
<ellipse cx="224.3" cy="147.3" rx="1.2" ry="1.3" fill="rgb(79,153,0)"/>
<ellipse cx="157.2" cy="141.3" rx="1.0" ry="1.1" fill="rgb(82,153,0)"/>
<ellipse cx="318.6" cy="146.4" rx="1.7" ry="1.4" fill="rgb(76,153,0)"/>
<ellipse cx="211.1" cy="150.9" rx="1.7" ry="1.5" fill="rgb(79,153,0)"/>
<ellipse cx="134.3" cy="151.2" rx="1.6" ry="1.7" fill="rgb(59,153,0)"/>
<ellipse cx="159.4" cy="147.2" rx="1.3" ry="1.2" fill="rgb(79,153,0)"/>
<ellipse cx="319.9" cy="145.1" rx="2.0" ry="1.2" fill="rgb(61,153,0)"/>
<ellipse cx="180.6" cy="143.5" rx="1.3" ry="1.3" fill="rgb(71,153,0)"/>
<ellipse cx="237.6" cy="150.9" rx="1.9" ry="1.7" fill="rgb(61,153,0)"/>
<ellipse cx="287.5" cy="141.4" rx="1.8" ry="1.6" fill="rgb(74,153,0)"/>
<ellipse cx="254.9" cy="143.3" rx="1.5" ry="1.1" fill="rgb(64,153,0)"/>
<ellipse cx="148.3" cy="144.7" rx="1.4" ry="1.5" fill="rgb(69,153,0)"/>
<ellipse cx="176.1" cy="144.0" rx="1.5" ry="1.1" fill="rgb(76,153,0)"/>
<ellipse cx="150.3" cy="147.4" rx="1.2" ry="1.3" fill="rgb(66,153,0)"/>
<ellipse cx="250.8" cy="143.6" rx="2.0" ry="1.1" fill="rgb(69,153,0)"/>
<ellipse cx="144.1" cy="144.7" rx="1.9" ry="1.2" fill="rgb(74,153,0)"/>
<ellipse cx="206.4" cy="148.8" rx="2.2" ry="1.2" fill="rgb(56,153,0)"/>
<ellipse cx="168.0" cy="150.9" rx="1.1" ry="1.4" fill="rgb(69,153,0)"/>
<ellipse cx="243.8" cy="151.3" rx="1.7" ry="1.4" fill="rgb(69,153,0)"/>
<ellipse cx="321.9" cy="142.8" rx="1.4" ry="1.6" fill="rgb(79,153,0)"/>
<ellipse cx="233.0" cy="141.8" rx="1.5" ry="1.6" fill="rgb(79,153,0)"/>
</g>
</g>
<g clip-path="url(#cb)">
<polyline points="125,105.4 127.5,105.2 130,104.7 132.5,106 135,104.4 137.5,105.2 140,105.9 142.5,104.3 145,105.1 147.5,105.2 150,104.1 152.5,104.6 155,105.2 157.5,104.6 160,105.1 162.5,104 165,104.1 167.5,103.8 170,104.4 172.5,105.1 175,104.5 177.5,104.8 180,104 182.7,104.2 185.3,102.7 188,102.6 190.6,101.3 193.2,99.4 195.8,94.2 198.5,89 201.8,85.6 205.1,81.8 209.1,86.6 211.8,92.9 214.4,97.1 217.1,100.3 219.7,102.3 222.3,98.8 225,97.4 228.3,92.3 231.6,86.1 234.2,74.9 236.9,57.3 238.7,70.5 242.2,79.2 246.1,89 248.8,93.8 251.4,98.3 254.1,99.1 256.7,100.7 259.4,102.9 262,105.7 264.7,104.9 267.3,105.1 270,106 272.4,106.9 274.8,106.1 277.2,106.1 279.7,106.7 282.1,105.8 284.5,106.8 286.9,106.1 289.3,107 291.8,107.8 294.2,106.2 296.6,107.2 299,107.4 301.4,106.7 303.8,107 306.2,108.5 308.7,108.6 311.1,107.1 313.5,108.2 315.9,108.8 318.3,107.6 320.8,108.4 323.2,107.5 325.6,108.2 328,108.5" fill="none" stroke="#fff" stroke-width="2.4" stroke-linejoin="round"/>
<path d="M323.5,108 V113 H304 M310.5,110 L303.5,113 L310.5,116" stroke="#fff" stroke-width="1.6" fill="none"/>
</g>
<text x="131" y="15.3" font-size="13" fill="#fff" stroke="#fff" stroke-width="0.08">(b)</text>
<text x="206" y="24.6" font-size="13" fill="#fff" stroke="#fff" stroke-width="0.3">50 THz</text>
<path d="M193.9,28.3 H258.6 M193.9,25 V32 M258.6,25 V32" stroke="#fff" stroke-width="1.5" fill="none"/>
<rect x="134.6" y="43.2" width="27.4" height="12.3" fill="#a838e0"/>
<text x="135.5" y="54" font-size="12.5" fill="#fff" stroke="#fff" stroke-width="0.08">3ω/2</text>
<rect x="209.5" y="145.2" width="33.5" height="2.8" fill="#111"/>
<text x="18" y="178.3" font-size="13" fill="#111" stroke="#111" stroke-width="0.05">(c)</text>
<path d="M33.6,187 V376.5 H292.4" stroke="#111" stroke-width="1.2" fill="none"/>
<path d="M33.6,204 H38 M33.6,290 H38 M77,376 V370.5 M248.3,376 V370.5" stroke="#111" stroke-width="1" fill="none"/>
<text x="20.5" y="208" font-size="11.5" fill="#111" stroke="#111" stroke-width="0.25">2</text>
<text x="20.5" y="293.5" font-size="11.5" fill="#111" stroke="#111" stroke-width="0.25">1</text>
<text x="20.5" y="380.5" font-size="11.5" fill="#111" stroke="#111" stroke-width="0.25">0</text>
<text x="72.5" y="391.5" font-size="11.5" fill="#111" text-anchor="middle" stroke="#111" stroke-width="0.25">−1</text>
<text x="162.5" y="391.5" font-size="11.5" fill="#111" text-anchor="middle" stroke="#111" stroke-width="0.25">0</text>
<text x="248.3" y="391.5" font-size="11.5" fill="#111" text-anchor="middle" stroke="#111" stroke-width="0.25">1</text>
<text x="147.8" y="406.6" font-size="13" fill="#111" stroke="#111" stroke-width="0.25">k<tspan font-size="9.5" dy="3.2" dx="0.6" style="font-family:'DejaVu Sans',sans-serif">⊥</tspan><tspan dy="-3.2" dx="-0.6">/k</tspan><tspan font-size="10.5" dy="3.2">0</tspan></text>
<text transform="translate(10.3,295.6) rotate(-90)" font-size="13" fill="#111" stroke="#111" stroke-width="0.15">k<tspan font-size="10" dy="3.3" dx="0.6" letter-spacing="1.6" stroke-width="0.5">||</tspan><tspan dy="-3.3" dx="-1">/k</tspan><tspan font-size="10" dy="3.3">0</tspan></text>
<path d="M292.4,161.5 V376.5 M287.5,197 H292.4 M287.5,286.8 H292.4 M287.5,376 H292.4" stroke="#d8203c" stroke-width="1.3" fill="none"/>
<text x="296" y="201" font-size="11.5" fill="#a01a2a" stroke="#a01a2a" stroke-width="0.25">20</text>
<text x="296.5" y="290.2" font-size="11.5" fill="#a01a2a" stroke="#a01a2a" stroke-width="0.25">10</text>
<text x="296" y="380" font-size="11.5" fill="#a01a2a" stroke="#a01a2a" stroke-width="0.25">0</text>
<text transform="translate(323.4,359.4) rotate(-90) scale(1.15,1)" font-size="11.6" fill="#a01a2a" stroke="#a01a2a" stroke-width="0.25">Δ<tspan font-style="italic">ν</tspan>, THz (frequency splitting</text>
<text transform="translate(336.6,347.9) rotate(-90) scale(1.15,1)" font-size="11.6" fill="#a01a2a" stroke="#a01a2a" stroke-width="0.25">between TPD plasmons)</text>
<path d="M33.6,262.3 A172,172 0 0 1 290,260.3" stroke="#d8203c" stroke-width="1.6" fill="none" stroke-dasharray="9,5.5"/>
<path d="M254.6,231 V184.1" stroke="#d8203c" stroke-width="1.4" fill="none" stroke-dasharray="3.5,2.5"/>
<path d="M249.5,184.1 H292" stroke="#d8203c" stroke-width="1.4" fill="none" stroke-dasharray="3.5,2.5"/>
<path d="M162.5,376 L251.5,234.5 M162.5,376 L149.8,291" stroke="#2f8cf0" stroke-width="1.6" fill="none"/>
<path d="M253.6,231.2 L245.2,237.2 L250.9,240.6 Z" fill="#2f8cf0"/>
<path d="M149.3,287.5 L146.3,296.5 L152.5,295.8 Z" fill="#2f8cf0"/>
<path d="M163.8,294.6 C166,294.2 173.1,293.4 177,292 C180.9,290.6 184,288.7 187,286.5 C190,284.3 192.7,281.7 195,279 C197.3,276.3 198.5,274.1 201,270.5 C203.5,266.9 206.1,263.2 210,257.4 C213.9,251.6 220.4,242.4 224.7,235.5 C229,228.6 232.4,222.2 236,216 C239.6,209.8 243.4,203.7 246.5,198.5 C249.6,193.3 250.9,191.2 254.4,185 C257.9,178.8 265.4,165.2 267.6,161.2" stroke="#e01e3c" stroke-width="3.6" fill="none" stroke-linecap="round"/>
<path d="M33.1,197.2 C38.8,202.4 58.8,220.7 67.5,228.6 C76.2,236.5 79.8,239.6 85.2,244.4 C90.6,249.2 94.9,253.2 100,257.3 C105.1,261.4 109.4,264.5 115.6,268.7 C121.8,272.9 131,279.3 137.2,282.5 C143.4,285.7 148.3,286.9 152.6,288.1 C156.9,289.3 159.8,289.5 163,289.6 C166.2,289.7 168.4,289.5 172,288.5 C175.6,287.5 180.6,285.6 184.4,283.8 C188.2,282 191.6,279.7 195,277.5 C198.4,275.3 200,274.4 205,270.8 C210,267.2 218.3,261.1 225,256 C231.7,250.9 240.2,244.4 245,240.3 C249.8,236.2 245.9,238.8 253.8,231.6 C261.7,224.3 285.8,202.6 292.2,196.8" stroke="#0e2ef0" stroke-width="3.3" fill="none"/>
<path d="M253.6,231.5 L170.5,284.5" stroke="#e01e3c" stroke-width="2" fill="none"/>
<path d="M165.5,288 L169.2,280 L173.6,286.2 Z" fill="#e01e3c"/>
<path d="M162,289.5 L156,288.5" stroke="#e01e3c" stroke-width="2" fill="none"/>
<path d="M150.5,288.5 L157.5,284.8 L157.2,292 Z" fill="#e01e3c"/>
<path d="M162.4,376 V310" stroke="#0e2ef0" stroke-width="5" fill="none"/>
<path d="M162.4,294.5 L155.3,311.5 L169.5,311.5 Z" fill="#0e2ef0"/>
<circle cx="162.5" cy="289.7" r="3.2" fill="#e01e3c" stroke="#111" stroke-width="1"/>
<circle cx="67.5" cy="229" r="3.5" fill="none" stroke="#e01e3c" stroke-width="1.7"/>
<circle cx="85.2" cy="244.2" r="3.5" fill="none" stroke="#e01e3c" stroke-width="1.7"/>
<circle cx="115.6" cy="268.7" r="3.5" fill="none" stroke="#e01e3c" stroke-width="1.7"/>
<circle cx="137.2" cy="282.6" r="3.5" fill="none" stroke="#e01e3c" stroke-width="1.7"/>
<path d="M61.4,146 C61.4,147.6 61.3,152.4 61.4,155.3 C61.5,158.2 61.4,160.9 61.8,163.5 C62.1,166.1 62.8,168.6 63.5,170.6 C64.2,172.6 65.1,173.8 65.9,175.3 C66.8,176.8 66.9,177.4 68.6,179.5 C70.3,181.6 73.5,185 76.2,187.6 C78.9,190.2 81.8,192.8 85,195 C88.2,197.2 91.1,198.7 95.3,200.9 C99.5,203.1 105.9,206.3 110,208.2 C114.1,210.1 117,211.1 120,212.4 C123,213.8 125.2,214.8 127.9,216.3 C130.6,217.8 133.2,219.6 135.9,221.5 C138.6,223.4 141.4,225.4 143.8,227.5 C146.2,229.6 148.4,231.8 150.4,234.1 C152.4,236.4 154.3,238.9 155.7,241.4 C157.1,243.9 157.9,246.2 158.6,249 C159.2,251.8 159.5,255.2 159.6,258.2 C159.7,261.2 159.4,264.2 158.9,267 C158.4,269.8 157.2,273.7 156.8,275" stroke="#111" stroke-width="1.25" fill="none"/>
<path d="M153.2,283.8 L151.3,275.2 L159,276.8 Z" fill="#111"/>
<path d="M227.8,147 C227.7,150.8 227.4,162 227.4,170 C227.4,178 227.5,189.5 227.6,195 C227.7,200.5 227.9,200.1 228.2,203 C228.5,205.9 229,209.3 229.6,212.2 C230.2,215 230.6,217.8 231.5,220.1 C232.4,222.4 233.4,224.4 234.8,226.1 C236.2,227.8 238.4,229.2 240.1,230 C241.8,230.8 244.2,231 245,231.2" stroke="#111" stroke-width="1.2" fill="none"/>
<path d="M251.6,231.6 L243.6,227.6 L243.8,234.8 Z" fill="#111"/>
<text x="78.3" y="167.3" font-size="13" fill="#111" stroke="#111" stroke-width="0.25">Wavelength</text>
<path d="M145.7,163.8 H182" stroke="#111" stroke-width="1.1"/>
<path d="M185.5,163.8 L178,160.8 L178,166.8 Z" fill="#111"/>
<rect x="148.5" y="176.6" width="28" height="42.7" fill="#fff" stroke="#333" stroke-width="1.1"/>
<text x="152.5" y="190.5" font-size="13" fill="#111" stroke="#111" stroke-width="0.25">∇n<tspan font-size="10" dy="3">e</tspan></text>
<path d="M162.5,216 V203" stroke="#0e2ef0" stroke-width="3" fill="none"/>
<path d="M162.5,194.3 L156.5,206 L168.5,206 Z" fill="#0e2ef0"/>
<text transform="translate(75,224) rotate(-62)" font-size="11.8" fill="#111" stroke="#111" stroke-width="0.2">0.218</text>
<text transform="translate(91.8,238.6) rotate(-62)" font-size="11.8" fill="#111" stroke="#111" stroke-width="0.2">0.228</text>
<text transform="translate(121.3,264.1) rotate(-62)" font-size="11.8" fill="#111" stroke="#111" stroke-width="0.2">0.237</text>
<text transform="translate(144.4,277.2) rotate(-62)" font-size="11.8" fill="#111" stroke="#111" stroke-width="0.2">0.242</text>
<text transform="translate(165,283) rotate(-62)" font-size="11.8" fill="#111" stroke="#111" stroke-width="0.2">0.245</text>
<text transform="translate(36,185) rotate(42)" font-size="13" fill="#111" stroke="#111" stroke-width="0.25">n<tspan font-size="9.5" dy="3">e</tspan><tspan dy="-3">/n</tspan><tspan font-size="9.5" dy="3">c</tspan></text>
<path d="M57.1,201.5 L64.6,208.4 M62.9,202.1 L65.3,208.9 L57.6,207.5" stroke="#111" stroke-width="1.8" fill="none" stroke-linejoin="miter"/>
<rect x="37.5" y="276.5" width="45" height="28.5" fill="#fff" stroke="#d04060" stroke-width="1"/>
<text x="60" y="289" font-size="13" fill="#111" text-anchor="middle" stroke="#111" stroke-width="0.25">Landau</text>
<text x="60" y="301.5" font-size="13" fill="#111" text-anchor="middle" stroke="#111" stroke-width="0.25">cutoff</text>
<path d="M59.5,276.5 V245" stroke="#d8203c" stroke-width="1" fill="none"/>
<path d="M59.5,239.5 L56.8,247 L62.2,247 Z" fill="#d8203c"/>
<text x="168" y="331.5" font-size="13" fill="#111" stroke="#111" stroke-width="0.25">k<tspan font-size="10" dy="2.5">0</tspan></text>
<text transform="translate(215.5,316) rotate(-57)" font-size="13" fill="#2a50e6" font-style="italic" stroke="#2a50e6" stroke-width="0.25">k<tspan font-size="10.5" dy="3">p1</tspan></text>
<text transform="translate(181.5,269.3) rotate(-30)" font-size="14" fill="#b41e32" stroke="#b41e32" stroke-width="0.25">k<tspan font-size="11" dy="3">p2</tspan></text>
<ellipse cx="261" cy="173.7" rx="7.8" ry="3" fill="none" stroke="#e0203c" stroke-width="1.5"/>
<path d="M268.8,173.7 H281 M276.5,170 L281.2,173.7 L276.5,177.4" stroke="#e0203c" stroke-width="1.3" fill="none"/>
</svg>
</body></html>
